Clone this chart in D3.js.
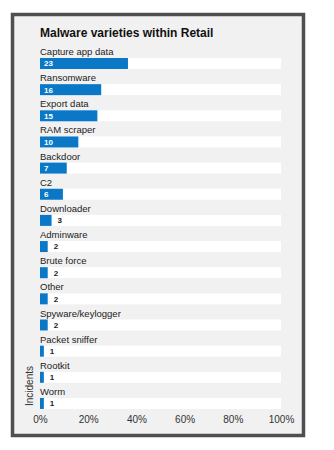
<!DOCTYPE html>
<html>
<head>
<meta charset="utf-8">
<script src="https://cdn.jsdelivr.net/npm/d3@7"></script>
<style>
  body { margin: 0; background: #fff; }
  svg { display: block; font-family: "Liberation Sans", Arial, sans-serif; }
</style>
</head>
<body>
<svg id="chart" width="334" height="450"></svg>
<script>
const categories = ['Capture app data', 'Ransomware', 'Export data', 'RAM scraper', 'Backdoor', 'C2',
  'Downloader', 'Adminware', 'Brute force', 'Other', 'Spyware/keylogger', 'Packet sniffer', 'Rootkit', 'Worm'];
const counts = [23, 16, 15, 10, 7, 6, 3, 2, 2, 2, 2, 1, 1, 1];
// share of incidents (%)
const shares = [36.5, 25.4, 23.8, 15.9, 11.1, 9.5, 4.8, 3.2, 3.2, 3.2, 3.2, 1.6, 1.6, 1.6];
const xTicks = [0, 20, 40, 60, 80, 100];

const data = categories.map((c, i) => ({ label: c, count: counts[i], share: shares[i] }));

const svg = d3.select('#chart');

// frame
svg.append('rect')
  .attr('x', 12.5).attr('y', 14.5)
  .attr('width', 291).attr('height', 421)
  .attr('fill', '#f1f1f1')
  .attr('stroke', '#4f4f4f')
  .attr('stroke-width', 3.5);

svg.append('text')
  .attr('x', 40).attr('y', 37)
  .attr('font-size', 12)
  .attr('font-weight', 'bold')
  .attr('fill', '#111')
  .text('Malware varieties within Retail');

const x = d3.scaleLinear().domain([0, 100]).range([40, 281]);
const y = d3.scaleBand().domain(categories).range([45, 45 + 14 * 26.15]);
const barOffset = 13, barH = 11;

const row = svg.append('g')
  .selectAll('g')
  .data(data)
  .enter()
  .append('g')
  .attr('transform', d => `translate(0,${y(d.label)})`);

row.append('text')
  .attr('x', 40).attr('y', 10)
  .attr('font-size', 9.5)
  .attr('fill', '#222')
  .text(d => d.label);

// white track
row.append('rect')
  .attr('x', x(0)).attr('y', barOffset)
  .attr('width', x(100) - x(0)).attr('height', barH)
  .attr('fill', '#fff');

row.append('rect')
  .attr('x', x(0)).attr('y', barOffset)
  .attr('width', d => x(d.share) - x(0)).attr('height', barH)
  .attr('fill', '#0a78c6');

row.append('text')
  .attr('x', d => d.count >= 6 ? x(0) + 4 : x(d.share) + 6)
  .attr('y', barOffset + barH / 2)
  .attr('dy', '0.36em')
  .attr('font-size', 8)
  .attr('font-weight', 'bold')
  .attr('fill', d => d.count >= 6 ? '#fff' : '#222')
  .text(d => d.count);

// x axis
const axis = svg.append('g')
  .attr('transform', 'translate(0,413)')
  .call(d3.axisBottom(x).tickValues(xTicks).tickSize(0).tickFormat(d => d + '%'));
axis.select('.domain').remove();
axis.selectAll('text')
  .attr('font-size', 10)
  .attr('font-family', '"Liberation Sans", Arial, sans-serif')
  .attr('fill', '#333')
  .attr('dy', '0.71em');

svg.append('text')
  .attr('transform', 'translate(33,386) rotate(-90)')
  .attr('text-anchor', 'middle')
  .attr('font-size', 10)
  .attr('fill', '#333')
  .text('Incidents');
</script>
</body>
</html>
